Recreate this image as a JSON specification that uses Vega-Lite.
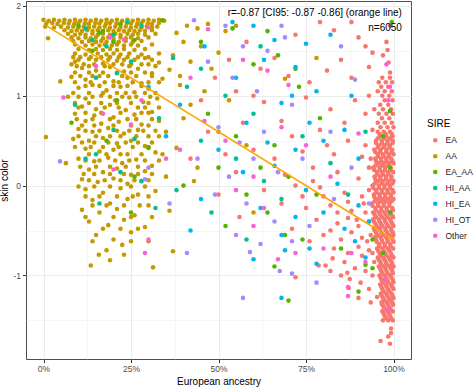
{
"$schema":"https://vega.github.io/schema/vega-lite/v6.json",
"width":385,"height":358,
"autosize":{"type":"none"},
"padding":{"left":26,"top":1,"right":63,"bottom":29},
"config":{
"font":"Liberation Sans",
"view":{"stroke":"#4D4D4D","strokeWidth":1},
"axis":{"domain":false,"gridColor":"#EBEBEB","labelFont":"Liberation Sans","labelFontSize":8.5,"labelColor":"#4D4D4D","tickSize":3.5,"tickWidth":1,"labelPadding":2,"titleFontSize":10,"titleFontWeight":"normal","titleColor":"#000000","titleFont":"Liberation Sans"},
"legend":{"titleFontSize":10,"titleFontWeight":"normal","titleColor":"#000000","titleFont":"Liberation Sans","labelFont":"Liberation Sans","labelFontSize":8.5,"labelColor":"#1A1A1A","symbolType":"circle","symbolSize":20,"symbolStrokeWidth":0,"rowPadding":6.9,"titlePadding":7,"padding":0,"symbolOffset":4,"labelOffset":6}
},
"encoding":{
"x":{"field":"x","type":"quantitative","scale":{"domain":[-0.05,1.05],"nice":false,"zero":false},
"axis":{"title":"European ancestry","values":[0,0.125,0.25,0.375,0.5,0.625,0.75,0.875,1],"labelExpr":"datum.value*4%1==0 ? round(datum.value*100)+'%' : ''","gridWidth":{"condition":{"test":"datum.value*4%1==0","value":1},"value":0.5},"tickColor":{"condition":{"test":"datum.value*4%1==0","value":"#333333"},"value":"rgba(0,0,0,0)"},"titlePadding":3,"labelFlush":false,"labelOverlap":false}},
"y":{"field":"y","type":"quantitative","scale":{"domain":[-1.93,2.055],"nice":false,"zero":false},
"axis":{"title":"skin color","values":[-1.5,-1,-0.5,0,0.5,1,1.5,2],"labelExpr":"datum.value%1==0 ? ''+datum.value : ''","gridWidth":{"condition":{"test":"datum.value%1==0","value":1},"value":0.5},"tickColor":{"condition":{"test":"datum.value%1==0","value":"#333333"},"value":"rgba(0,0,0,0)"},"titlePadding":3,"labelFlush":false,"labelOverlap":false}}
},
"layer":[
{"data":{"values":[
{"x":0.0,"y":1.845,"s":"AA"},{"x":0.015,"y":1.835,"s":"AA"},{"x":0.03,"y":1.845,"s":"AA"},{"x":0.045,"y":1.835,"s":"AA"},{"x":0.06,"y":1.845,"s":"AA"},{"x":0.075,"y":1.835,"s":"AA"},{"x":0.09,"y":1.845,"s":"AA"},{"x":0.105,"y":1.835,"s":"AA"},{"x":0.12,"y":1.845,"s":"AA"},{"x":0.135,"y":1.835,"s":"AA"},{"x":0.15,"y":1.845,"s":"AA"},{"x":0.165,"y":1.835,"s":"AA"},{"x":0.18,"y":1.845,"s":"AA"},{"x":0.195,"y":1.835,"s":"AA"},{"x":0.21,"y":1.845,"s":"AA"},{"x":0.225,"y":1.835,"s":"AA"},{"x":0.24,"y":1.845,"s":"AA"},{"x":0.255,"y":1.835,"s":"AA"},{"x":0.27,"y":1.845,"s":"AA"},{"x":0.285,"y":1.835,"s":"AA"},{"x":0.3,"y":1.845,"s":"AA"},{"x":0.315,"y":1.835,"s":"AA"},{"x":0.33,"y":1.845,"s":"AA"},{"x":0.345,"y":1.835,"s":"AA"},
{"x":0.008,"y":1.805,"s":"AA"},{"x":0.025,"y":1.81,"s":"AA"},{"x":0.04,"y":1.8,"s":"AA"},{"x":0.058,"y":1.81,"s":"AA"},{"x":0.072,"y":1.805,"s":"AA"},{"x":0.088,"y":1.8,"s":"AA"},{"x":0.1,"y":1.81,"s":"AA"},{"x":0.118,"y":1.805,"s":"AA"},{"x":0.13,"y":1.8,"s":"AA"},{"x":0.148,"y":1.81,"s":"AA"},{"x":0.16,"y":1.805,"s":"AA"},{"x":0.178,"y":1.8,"s":"AA"},{"x":0.19,"y":1.81,"s":"AA"},{"x":0.208,"y":1.805,"s":"AA"},{"x":0.22,"y":1.8,"s":"AA"},{"x":0.238,"y":1.81,"s":"AA"},{"x":0.25,"y":1.805,"s":"AA"},{"x":0.268,"y":1.8,"s":"AA"},{"x":0.28,"y":1.81,"s":"AA"},{"x":0.298,"y":1.805,"s":"AA"},{"x":0.31,"y":1.8,"s":"AA"},{"x":0.33,"y":1.81,"s":"AA"},
{"x":0.005,"y":1.77,"s":"AA"},{"x":0.03,"y":1.76,"s":"AA"},{"x":0.05,"y":1.77,"s":"AA"},{"x":0.07,"y":1.76,"s":"AA"},{"x":0.085,"y":1.77,"s":"AA"},{"x":0.1,"y":1.76,"s":"AA"},{"x":0.115,"y":1.77,"s":"AA"},{"x":0.13,"y":1.76,"s":"AA"},{"x":0.145,"y":1.77,"s":"AA"},{"x":0.16,"y":1.76,"s":"AA"},{"x":0.175,"y":1.77,"s":"AA"},{"x":0.19,"y":1.76,"s":"AA"},{"x":0.205,"y":1.77,"s":"AA"},{"x":0.22,"y":1.76,"s":"AA"},{"x":0.235,"y":1.77,"s":"AA"},{"x":0.25,"y":1.76,"s":"AA"},{"x":0.265,"y":1.77,"s":"AA"},{"x":0.28,"y":1.76,"s":"AA"},{"x":0.295,"y":1.77,"s":"AA"},{"x":0.31,"y":1.76,"s":"AA"},{"x":0.325,"y":1.77,"s":"AA"},
{"x":0.06,"y":1.73,"s":"AA"},{"x":0.08,"y":1.72,"s":"AA"},{"x":0.095,"y":1.73,"s":"AA"},{"x":0.11,"y":1.72,"s":"AA"},{"x":0.125,"y":1.73,"s":"AA"},{"x":0.14,"y":1.72,"s":"AA"},{"x":0.155,"y":1.73,"s":"AA"},{"x":0.17,"y":1.72,"s":"AA"},{"x":0.185,"y":1.73,"s":"AA"},{"x":0.2,"y":1.72,"s":"AA"},{"x":0.215,"y":1.73,"s":"AA"},{"x":0.23,"y":1.72,"s":"AA"},{"x":0.245,"y":1.73,"s":"AA"},{"x":0.26,"y":1.72,"s":"AA"},{"x":0.275,"y":1.73,"s":"AA"},{"x":0.29,"y":1.72,"s":"AA"},{"x":0.31,"y":1.73,"s":"AA"},
{"x":0.07,"y":1.69,"s":"AA"},{"x":0.09,"y":1.68,"s":"AA"},{"x":0.105,"y":1.69,"s":"AA"},{"x":0.12,"y":1.68,"s":"AA"},{"x":0.14,"y":1.69,"s":"AA"},{"x":0.155,"y":1.68,"s":"AA"},{"x":0.17,"y":1.69,"s":"AA"},{"x":0.19,"y":1.68,"s":"AA"},{"x":0.205,"y":1.69,"s":"AA"},{"x":0.22,"y":1.68,"s":"AA"},{"x":0.24,"y":1.69,"s":"AA"},{"x":0.255,"y":1.68,"s":"AA"},{"x":0.27,"y":1.69,"s":"AA"},{"x":0.29,"y":1.68,"s":"AA"},{"x":0.32,"y":1.69,"s":"AA"},
{"x":0.08,"y":1.65,"s":"AA"},{"x":0.1,"y":1.64,"s":"AA"},{"x":0.12,"y":1.65,"s":"AA"},{"x":0.135,"y":1.64,"s":"AA"},{"x":0.15,"y":1.65,"s":"AA"},{"x":0.17,"y":1.64,"s":"AA"},{"x":0.185,"y":1.65,"s":"AA"},{"x":0.2,"y":1.64,"s":"AA"},{"x":0.22,"y":1.65,"s":"AA"},{"x":0.235,"y":1.64,"s":"AA"},{"x":0.25,"y":1.65,"s":"AA"},{"x":0.27,"y":1.64,"s":"AA"},{"x":0.3,"y":1.65,"s":"AA"},
{"x":0.085,"y":1.61,"s":"AA"},{"x":0.11,"y":1.6,"s":"AA"},{"x":0.13,"y":1.61,"s":"AA"},{"x":0.15,"y":1.6,"s":"AA"},{"x":0.165,"y":1.61,"s":"AA"},{"x":0.18,"y":1.6,"s":"AA"},{"x":0.2,"y":1.61,"s":"AA"},{"x":0.215,"y":1.6,"s":"AA"},{"x":0.235,"y":1.61,"s":"AA"},{"x":0.255,"y":1.6,"s":"AA"},{"x":0.28,"y":1.61,"s":"AA"},
{"x":0.09,"y":1.57,"s":"AA"},{"x":0.12,"y":1.56,"s":"AA"},{"x":0.14,"y":1.57,"s":"AA"},{"x":0.16,"y":1.56,"s":"AA"},{"x":0.175,"y":1.57,"s":"AA"},{"x":0.195,"y":1.56,"s":"AA"},{"x":0.21,"y":1.57,"s":"AA"},{"x":0.23,"y":1.56,"s":"AA"},{"x":0.25,"y":1.57,"s":"AA"},{"x":0.27,"y":1.56,"s":"AA"},{"x":0.31,"y":1.57,"s":"AA"},
{"x":0.1,"y":1.52,"s":"AA"},{"x":0.13,"y":1.51,"s":"AA"},{"x":0.15,"y":1.52,"s":"AA"},{"x":0.17,"y":1.51,"s":"AA"},{"x":0.19,"y":1.52,"s":"AA"},{"x":0.21,"y":1.51,"s":"AA"},{"x":0.23,"y":1.52,"s":"AA"},{"x":0.26,"y":1.51,"s":"AA"},{"x":0.29,"y":1.52,"s":"AA"},
{"x":0.09,"y":1.47,"s":"AA"},{"x":0.12,"y":1.46,"s":"AA"},{"x":0.155,"y":1.47,"s":"AA"},{"x":0.18,"y":1.46,"s":"AA"},{"x":0.2,"y":1.47,"s":"AA"},{"x":0.22,"y":1.46,"s":"AA"},{"x":0.245,"y":1.47,"s":"AA"},{"x":0.28,"y":1.46,"s":"AA"},{"x":0.33,"y":1.47,"s":"AA"},
{"x":0.013,"y":1.64,"s":"AA"},{"x":0.048,"y":1.16,"s":"AA"},{"x":0.007,"y":0.54,"s":"AA"},{"x":0.064,"y":0.25,"s":"AA"},
{"x":0.085,"y":1.43,"s":"AA"},{"x":0.105,"y":1.43,"s":"AA"},{"x":0.135,"y":1.43,"s":"AA"},{"x":0.165,"y":1.43,"s":"AA"},{"x":0.19,"y":1.43,"s":"AA"},{"x":0.215,"y":1.43,"s":"AA"},{"x":0.24,"y":1.43,"s":"AA"},{"x":0.27,"y":1.43,"s":"AA"},{"x":0.3,"y":1.43,"s":"AA"},
{"x":0.1,"y":1.4,"s":"AA"},{"x":0.15,"y":1.4,"s":"AA"},{"x":0.185,"y":1.4,"s":"AA"},{"x":0.23,"y":1.4,"s":"AA"},{"x":0.26,"y":1.4,"s":"AA"},{"x":0.31,"y":1.4,"s":"AA"},
{"x":0.08,"y":1.35,"s":"AA"},{"x":0.115,"y":1.35,"s":"AA"},{"x":0.145,"y":1.35,"s":"AA"},{"x":0.2,"y":1.35,"s":"AA"},{"x":0.225,"y":1.35,"s":"AA"},{"x":0.28,"y":1.35,"s":"AA"},{"x":0.3,"y":1.35,"s":"AA"},
{"x":0.095,"y":1.33,"s":"AA"},{"x":0.13,"y":1.33,"s":"AA"},{"x":0.175,"y":1.33,"s":"AA"},{"x":0.245,"y":1.33,"s":"AA"},{"x":0.32,"y":1.33,"s":"AA"},
{"x":0.09,"y":1.26,"s":"AA"},{"x":0.13,"y":1.26,"s":"AA"},{"x":0.17,"y":1.26,"s":"AA"},{"x":0.21,"y":1.26,"s":"AA"},{"x":0.25,"y":1.26,"s":"AA"},{"x":0.29,"y":1.26,"s":"AA"},
{"x":0.105,"y":1.22,"s":"AA"},{"x":0.14,"y":1.22,"s":"AA"},{"x":0.185,"y":1.22,"s":"AA"},{"x":0.225,"y":1.22,"s":"AA"},{"x":0.265,"y":1.22,"s":"AA"},{"x":0.31,"y":1.22,"s":"AA"},
{"x":0.09,"y":1.15,"s":"AA"},{"x":0.135,"y":1.15,"s":"AA"},{"x":0.175,"y":1.15,"s":"AA"},{"x":0.215,"y":1.15,"s":"AA"},{"x":0.255,"y":1.15,"s":"AA"},{"x":0.3,"y":1.15,"s":"AA"},{"x":0.33,"y":1.15,"s":"AA"},
{"x":0.12,"y":1.11,"s":"AA"},{"x":0.16,"y":1.11,"s":"AA"},{"x":0.2,"y":1.11,"s":"AA"},{"x":0.24,"y":1.11,"s":"AA"},{"x":0.28,"y":1.11,"s":"AA"},
{"x":0.085,"y":1.03,"s":"AA"},{"x":0.13,"y":1.03,"s":"AA"},{"x":0.17,"y":1.03,"s":"AA"},{"x":0.21,"y":1.03,"s":"AA"},{"x":0.235,"y":1.03,"s":"AA"},{"x":0.29,"y":1.03,"s":"AA"},{"x":0.32,"y":1.03,"s":"AA"},
{"x":0.1,"y":0.99,"s":"AA"},{"x":0.14,"y":0.99,"s":"AA"},{"x":0.19,"y":0.99,"s":"AA"},{"x":0.225,"y":0.99,"s":"AA"},{"x":0.265,"y":0.99,"s":"AA"},{"x":0.305,"y":0.99,"s":"AA"},
{"x":0.09,"y":0.92,"s":"AA"},{"x":0.13,"y":0.92,"s":"AA"},{"x":0.165,"y":0.92,"s":"AA"},{"x":0.21,"y":0.92,"s":"AA"},{"x":0.25,"y":0.92,"s":"AA"},{"x":0.3,"y":0.92,"s":"AA"},
{"x":0.1,"y":0.87,"s":"AA"},{"x":0.175,"y":0.87,"s":"AA"},{"x":0.215,"y":0.87,"s":"AA"},{"x":0.29,"y":0.87,"s":"AA"},{"x":0.33,"y":0.87,"s":"AA"},
{"x":0.12,"y":0.81,"s":"AA"},{"x":0.165,"y":0.81,"s":"AA"},{"x":0.22,"y":0.81,"s":"AA"},{"x":0.28,"y":0.81,"s":"AA"},{"x":0.3,"y":0.81,"s":"AA"},
{"x":0.095,"y":0.74,"s":"AA"},{"x":0.14,"y":0.74,"s":"AA"},{"x":0.19,"y":0.74,"s":"AA"},{"x":0.24,"y":0.74,"s":"AA"},{"x":0.265,"y":0.74,"s":"AA"},{"x":0.31,"y":0.74,"s":"AA"},
{"x":0.11,"y":0.67,"s":"AA"},{"x":0.145,"y":0.67,"s":"AA"},{"x":0.2,"y":0.67,"s":"AA"},{"x":0.25,"y":0.67,"s":"AA"},{"x":0.3,"y":0.67,"s":"AA"},
{"x":0.12,"y":0.61,"s":"AA"},{"x":0.16,"y":0.61,"s":"AA"},{"x":0.21,"y":0.61,"s":"AA"},{"x":0.245,"y":0.61,"s":"AA"},{"x":0.285,"y":0.61,"s":"AA"},{"x":0.32,"y":0.61,"s":"AA"},
{"x":0.1,"y":0.55,"s":"AA"},{"x":0.15,"y":0.55,"s":"AA"},{"x":0.19,"y":0.55,"s":"AA"},{"x":0.22,"y":0.55,"s":"AA"},{"x":0.265,"y":0.55,"s":"AA"},{"x":0.33,"y":0.55,"s":"AA"},
{"x":0.11,"y":0.48,"s":"AA"},{"x":0.145,"y":0.48,"s":"AA"},{"x":0.185,"y":0.48,"s":"AA"},{"x":0.235,"y":0.48,"s":"AA"},{"x":0.27,"y":0.48,"s":"AA"},{"x":0.31,"y":0.48,"s":"AA"},
{"x":0.09,"y":0.43,"s":"AA"},{"x":0.135,"y":0.43,"s":"AA"},{"x":0.17,"y":0.43,"s":"AA"},{"x":0.215,"y":0.43,"s":"AA"},{"x":0.255,"y":0.43,"s":"AA"},{"x":0.3,"y":0.43,"s":"AA"},
{"x":0.13,"y":0.35,"s":"AA"},{"x":0.18,"y":0.35,"s":"AA"},{"x":0.22,"y":0.35,"s":"AA"},{"x":0.28,"y":0.35,"s":"AA"},{"x":0.34,"y":0.35,"s":"AA"},
{"x":0.12,"y":0.28,"s":"AA"},{"x":0.16,"y":0.28,"s":"AA"},{"x":0.205,"y":0.28,"s":"AA"},{"x":0.245,"y":0.28,"s":"AA"},{"x":0.29,"y":0.28,"s":"AA"},{"x":0.33,"y":0.28,"s":"AA"},
{"x":0.105,"y":0.21,"s":"AA"},{"x":0.15,"y":0.21,"s":"AA"},{"x":0.19,"y":0.21,"s":"AA"},{"x":0.235,"y":0.21,"s":"AA"},{"x":0.27,"y":0.21,"s":"AA"},
{"x":0.115,"y":0.13,"s":"AA"},{"x":0.145,"y":0.13,"s":"AA"},{"x":0.19,"y":0.13,"s":"AA"},{"x":0.23,"y":0.13,"s":"AA"},{"x":0.27,"y":0.13,"s":"AA"},{"x":0.31,"y":0.13,"s":"AA"},
{"x":0.13,"y":0.06,"s":"AA"},{"x":0.175,"y":0.06,"s":"AA"},{"x":0.22,"y":0.06,"s":"AA"},{"x":0.26,"y":0.06,"s":"AA"},{"x":0.3,"y":0.06,"s":"AA"},
{"x":0.1,"y":-0.01,"s":"AA"},{"x":0.145,"y":-0.01,"s":"AA"},{"x":0.19,"y":-0.01,"s":"AA"},{"x":0.25,"y":-0.01,"s":"AA"},{"x":0.29,"y":-0.01,"s":"AA"},
{"x":0.12,"y":-0.12,"s":"AA"},{"x":0.16,"y":-0.12,"s":"AA"},{"x":0.21,"y":-0.12,"s":"AA"},{"x":0.255,"y":-0.12,"s":"AA"},{"x":0.3,"y":-0.12,"s":"AA"},
{"x":0.14,"y":-0.22,"s":"AA"},{"x":0.18,"y":-0.22,"s":"AA"},{"x":0.23,"y":-0.22,"s":"AA"},{"x":0.275,"y":-0.22,"s":"AA"},
{"x":0.12,"y":-0.35,"s":"AA"},{"x":0.2,"y":-0.35,"s":"AA"},{"x":0.25,"y":-0.35,"s":"AA"},{"x":0.31,"y":-0.35,"s":"AA"},
{"x":0.17,"y":-0.48,"s":"AA"},{"x":0.22,"y":-0.48,"s":"AA"},{"x":0.27,"y":-0.48,"s":"AA"},
{"x":0.14,"y":-0.62,"s":"AA"},{"x":0.25,"y":-0.62,"s":"AA"},{"x":0.3,"y":-0.62,"s":"AA"},
{"x":0.09,"y":1.38,"s":"AA"},{"x":0.13,"y":1.41,"s":"AA"},{"x":0.17,"y":1.36,"s":"AA"},{"x":0.21,"y":1.39,"s":"AA"},{"x":0.25,"y":1.35,"s":"AA"},{"x":0.29,"y":1.42,"s":"AA"},{"x":0.33,"y":1.37,"s":"AA"},{"x":0.11,"y":1.31,"s":"AA"},{"x":0.15,"y":1.28,"s":"AA"},{"x":0.19,"y":1.32,"s":"AA"},{"x":0.23,"y":1.27,"s":"AA"},{"x":0.27,"y":1.3,"s":"AA"},{"x":0.31,"y":1.25,"s":"AA"},{"x":0.36,"y":1.29,"s":"AA"},{"x":0.08,"y":1.21,"s":"AA"},{"x":0.12,"y":1.18,"s":"AA"},{"x":0.16,"y":1.22,"s":"AA"},{"x":0.2,"y":1.16,"s":"AA"},{"x":0.24,"y":1.2,"s":"AA"},{"x":0.28,"y":1.14,"s":"AA"},{"x":0.34,"y":1.19,"s":"AA"},{"x":0.1,"y":1.09,"s":"AA"},{"x":0.14,"y":1.12,"s":"AA"},{"x":0.18,"y":1.06,"s":"AA"},{"x":0.22,"y":1.1,"s":"AA"},{"x":0.26,"y":1.04,"s":"AA"},{"x":0.3,"y":1.08,"s":"AA"},{"x":0.39,"y":1.12,"s":"AA"},{"x":0.07,"y":0.99,"s":"AA"},{"x":0.12,"y":0.97,"s":"AA"},{"x":0.165,"y":1.0,"s":"AA"},{"x":0.205,"y":0.95,"s":"AA"},{"x":0.245,"y":0.98,"s":"AA"},{"x":0.285,"y":0.93,"s":"AA"},{"x":0.325,"y":0.97,"s":"AA"},{"x":0.11,"y":0.88,"s":"AA"},{"x":0.15,"y":0.85,"s":"AA"},{"x":0.19,"y":0.9,"s":"AA"},{"x":0.235,"y":0.84,"s":"AA"},{"x":0.27,"y":0.87,"s":"AA"},{"x":0.31,"y":0.82,"s":"AA"},{"x":0.42,"y":0.9,"s":"AA"},{"x":0.09,"y":0.8,"s":"AA"},{"x":0.145,"y":0.78,"s":"AA"},{"x":0.2,"y":0.76,"s":"AA"},{"x":0.26,"y":0.79,"s":"AA"},
{"x":0.12,"y":0.72,"s":"AA"},{"x":0.165,"y":0.69,"s":"AA"},{"x":0.215,"y":0.71,"s":"AA"},{"x":0.28,"y":0.68,"s":"AA"},{"x":0.33,"y":0.72,"s":"AA"},{"x":0.1,"y":0.63,"s":"AA"},{"x":0.14,"y":0.6,"s":"AA"},{"x":0.185,"y":0.64,"s":"AA"},{"x":0.23,"y":0.58,"s":"AA"},{"x":0.27,"y":0.62,"s":"AA"},{"x":0.3,"y":0.55,"s":"AA"},{"x":0.35,"y":0.6,"s":"AA"},{"x":0.085,"y":0.52,"s":"AA"},{"x":0.13,"y":0.5,"s":"AA"},{"x":0.17,"y":0.53,"s":"AA"},{"x":0.21,"y":0.47,"s":"AA"},{"x":0.25,"y":0.5,"s":"AA"},{"x":0.29,"y":0.44,"s":"AA"},{"x":0.12,"y":0.41,"s":"AA"},{"x":0.16,"y":0.38,"s":"AA"},{"x":0.2,"y":0.4,"s":"AA"},{"x":0.24,"y":0.35,"s":"AA"},{"x":0.32,"y":0.37,"s":"AA"},{"x":0.38,"y":0.42,"s":"AA"},{"x":0.1,"y":0.3,"s":"AA"},{"x":0.145,"y":0.27,"s":"AA"},{"x":0.185,"y":0.31,"s":"AA"},{"x":0.225,"y":0.25,"s":"AA"},{"x":0.265,"y":0.29,"s":"AA"},{"x":0.31,"y":0.22,"s":"AA"},{"x":0.13,"y":0.18,"s":"AA"},{"x":0.17,"y":0.15,"s":"AA"},{"x":0.21,"y":0.19,"s":"AA"},{"x":0.25,"y":0.12,"s":"AA"},{"x":0.29,"y":0.16,"s":"AA"},{"x":0.35,"y":0.1,"s":"AA"},{"x":0.11,"y":0.07,"s":"AA"},{"x":0.155,"y":0.04,"s":"AA"},{"x":0.2,"y":0.08,"s":"AA"},{"x":0.24,"y":0.02,"s":"AA"},{"x":0.28,"y":0.05,"s":"AA"},{"x":0.44,"y":0.2,"s":"AA"},
{"x":0.12,"y":-0.04,"s":"AA"},{"x":0.17,"y":-0.08,"s":"AA"},{"x":0.22,"y":-0.03,"s":"AA"},{"x":0.27,"y":-0.1,"s":"AA"},{"x":0.32,"y":-0.06,"s":"AA"},{"x":0.14,"y":-0.16,"s":"AA"},{"x":0.19,"y":-0.2,"s":"AA"},{"x":0.24,"y":-0.15,"s":"AA"},{"x":0.3,"y":-0.22,"s":"AA"},{"x":0.11,"y":-0.27,"s":"AA"},{"x":0.16,"y":-0.3,"s":"AA"},{"x":0.21,"y":-0.26,"s":"AA"},{"x":0.26,"y":-0.33,"s":"AA"},{"x":0.36,"y":-0.28,"s":"AA"},{"x":0.13,"y":-0.4,"s":"AA"},{"x":0.185,"y":-0.44,"s":"AA"},{"x":0.23,"y":-0.38,"s":"AA"},{"x":0.29,"y":-0.46,"s":"AA"},{"x":0.15,"y":-0.55,"s":"AA"},{"x":0.2,"y":-0.6,"s":"AA"},{"x":0.25,"y":-0.52,"s":"AA"},{"x":0.18,"y":-0.72,"s":"AA"},{"x":0.225,"y":-0.66,"s":"AA"},{"x":0.37,"y":-0.73,"s":"AA"},{"x":0.135,"y":-0.89,"s":"AA"},{"x":0.19,"y":-0.83,"s":"AA"},{"x":0.313,"y":-0.91,"s":"AA"},{"x":0.158,"y":-0.77,"s":"AA"},{"x":0.23,"y":-0.77,"s":"AA"},
{"x":0.38,"y":1.7,"s":"AA"},{"x":0.41,"y":1.78,"s":"AA"},{"x":0.44,"y":1.75,"s":"AA"},{"x":0.47,"y":1.8,"s":"AA"},{"x":0.52,"y":1.72,"s":"AA"},{"x":0.4,"y":1.6,"s":"AA"},{"x":0.45,"y":1.55,"s":"AA"},{"x":0.5,"y":1.48,"s":"AA"},{"x":0.37,"y":1.45,"s":"AA"},{"x":0.42,"y":1.38,"s":"AA"},{"x":0.48,"y":1.3,"s":"AA"},{"x":0.55,"y":1.78,"s":"AA"},{"x":0.39,"y":1.22,"s":"AA"},{"x":0.46,"y":1.05,"s":"AA"},{"x":0.53,"y":0.95,"s":"AA"},{"x":0.4,"y":0.75,"s":"AA"},{"x":0.5,"y":0.6,"s":"AA"},{"x":0.58,"y":0.45,"s":"AA"},{"x":0.43,"y":0.05,"s":"AA"},{"x":0.6,"y":-0.3,"s":"AA"},{"x":0.69,"y":1.19,"s":"AA"},{"x":0.78,"y":1.42,"s":"AA"},
{"x":0.968,"y":1.2,"s":"EA"},{"x":0.99,"y":1.2,"s":"EA"},{"x":0.958,"y":1.15,"s":"EA"},{"x":0.978,"y":1.15,"s":"EA"},{"x":0.996,"y":1.15,"s":"EA"},{"x":0.965,"y":1.1,"s":"EA"},{"x":0.985,"y":1.1,"s":"EA"},{"x":0.955,"y":1.05,"s":"EA"},{"x":0.975,"y":1.05,"s":"EA"},{"x":0.995,"y":1.05,"s":"EA"},{"x":0.968,"y":1.0,"s":"EA"},{"x":0.988,"y":1.0,"s":"EA"},{"x":0.975,"y":0.95,"s":"EA"},{"x":0.997,"y":0.95,"s":"EA"},{"x":0.962,"y":0.9,"s":"EA"},{"x":0.985,"y":0.9,"s":"EA"},{"x":0.97,"y":0.85,"s":"EA"},{"x":0.993,"y":0.85,"s":"EA"},{"x":0.958,"y":0.8,"s":"EA"},{"x":0.98,"y":0.8,"s":"EA"},{"x":0.998,"y":0.8,"s":"EA"},{"x":0.967,"y":0.75,"s":"EA"},{"x":0.988,"y":0.75,"s":"EA"},{"x":0.955,"y":0.7,"s":"EA"},{"x":0.975,"y":0.7,"s":"EA"},{"x":0.995,"y":0.7,"s":"EA"},{"x":0.963,"y":0.65,"s":"EA"},{"x":0.983,"y":0.65,"s":"EA"},{"x":1.0,"y":0.65,"s":"EA"},
{"x":0.955,"y":0.6,"s":"EA"},{"x":0.972,"y":0.6,"s":"EA"},{"x":0.99,"y":0.6,"s":"EA"},{"x":0.962,"y":0.55,"s":"EA"},{"x":0.98,"y":0.55,"s":"EA"},{"x":0.997,"y":0.55,"s":"EA"},{"x":0.95,"y":0.5,"s":"EA"},{"x":0.966,"y":0.5,"s":"EA"},{"x":0.983,"y":0.5,"s":"EA"},{"x":0.998,"y":0.5,"s":"EA"},{"x":0.958,"y":0.45,"s":"EA"},{"x":0.975,"y":0.45,"s":"EA"},{"x":0.99,"y":0.45,"s":"EA"},{"x":0.945,"y":0.4,"s":"EA"},{"x":0.963,"y":0.4,"s":"EA"},{"x":0.98,"y":0.4,"s":"EA"},{"x":0.996,"y":0.4,"s":"EA"},{"x":0.955,"y":0.35,"s":"EA"},{"x":0.97,"y":0.35,"s":"EA"},{"x":0.987,"y":0.35,"s":"EA"},{"x":1.0,"y":0.35,"s":"EA"},{"x":0.948,"y":0.3,"s":"EA"},{"x":0.964,"y":0.3,"s":"EA"},{"x":0.979,"y":0.3,"s":"EA"},{"x":0.993,"y":0.3,"s":"EA"},{"x":0.957,"y":0.25,"s":"EA"},{"x":0.972,"y":0.25,"s":"EA"},{"x":0.988,"y":0.25,"s":"EA"},{"x":1.0,"y":0.25,"s":"EA"},{"x":0.942,"y":0.2,"s":"EA"},{"x":0.96,"y":0.2,"s":"EA"},{"x":0.976,"y":0.2,"s":"EA"},{"x":0.992,"y":0.2,"s":"EA"},{"x":0.953,"y":0.15,"s":"EA"},{"x":0.968,"y":0.15,"s":"EA"},{"x":0.984,"y":0.15,"s":"EA"},{"x":0.999,"y":0.15,"s":"EA"},{"x":0.946,"y":0.1,"s":"EA"},{"x":0.962,"y":0.1,"s":"EA"},{"x":0.978,"y":0.1,"s":"EA"},{"x":0.994,"y":0.1,"s":"EA"},{"x":0.955,"y":0.05,"s":"EA"},{"x":0.97,"y":0.05,"s":"EA"},{"x":0.986,"y":0.05,"s":"EA"},{"x":1.0,"y":0.05,"s":"EA"},{"x":0.94,"y":0.0,"s":"EA"},{"x":0.958,"y":0.0,"s":"EA"},{"x":0.974,"y":0.0,"s":"EA"},{"x":0.99,"y":0.0,"s":"EA"},{"x":0.95,"y":-0.05,"s":"EA"},{"x":0.966,"y":-0.05,"s":"EA"},{"x":0.982,"y":-0.05,"s":"EA"},{"x":0.997,"y":-0.05,"s":"EA"},{"x":0.944,"y":-0.1,"s":"EA"},{"x":0.96,"y":-0.1,"s":"EA"},{"x":0.976,"y":-0.1,"s":"EA"},{"x":0.992,"y":-0.1,"s":"EA"},{"x":0.953,"y":-0.15,"s":"EA"},{"x":0.969,"y":-0.15,"s":"EA"},{"x":0.985,"y":-0.15,"s":"EA"},{"x":1.0,"y":-0.15,"s":"EA"},{"x":0.938,"y":-0.2,"s":"EA"},{"x":0.956,"y":-0.2,"s":"EA"},{"x":0.972,"y":-0.2,"s":"EA"},{"x":0.988,"y":-0.2,"s":"EA"},{"x":0.948,"y":-0.25,"s":"EA"},{"x":0.964,"y":-0.25,"s":"EA"},{"x":0.98,"y":-0.25,"s":"EA"},{"x":0.996,"y":-0.25,"s":"EA"},{"x":0.942,"y":-0.3,"s":"EA"},{"x":0.958,"y":-0.3,"s":"EA"},{"x":0.974,"y":-0.3,"s":"EA"},{"x":0.99,"y":-0.3,"s":"EA"},{"x":0.95,"y":-0.35,"s":"EA"},{"x":0.967,"y":-0.35,"s":"EA"},{"x":0.983,"y":-0.35,"s":"EA"},{"x":0.999,"y":-0.35,"s":"EA"},{"x":0.944,"y":-0.4,"s":"EA"},{"x":0.96,"y":-0.4,"s":"EA"},{"x":0.976,"y":-0.4,"s":"EA"},{"x":0.993,"y":-0.4,"s":"EA"},{"x":0.952,"y":-0.45,"s":"EA"},{"x":0.968,"y":-0.45,"s":"EA"},{"x":0.984,"y":-0.45,"s":"EA"},{"x":1.0,"y":-0.45,"s":"EA"},{"x":0.946,"y":-0.5,"s":"EA"},{"x":0.962,"y":-0.5,"s":"EA"},{"x":0.978,"y":-0.5,"s":"EA"},{"x":0.994,"y":-0.5,"s":"EA"},{"x":0.955,"y":-0.55,"s":"EA"},{"x":0.971,"y":-0.55,"s":"EA"},{"x":0.987,"y":-0.55,"s":"EA"},{"x":1.0,"y":-0.55,"s":"EA"},{"x":0.95,"y":-0.6,"s":"EA"},{"x":0.966,"y":-0.6,"s":"EA"},{"x":0.982,"y":-0.6,"s":"EA"},{"x":0.997,"y":-0.6,"s":"EA"},{"x":0.958,"y":-0.65,"s":"EA"},{"x":0.974,"y":-0.65,"s":"EA"},{"x":0.99,"y":-0.65,"s":"EA"},{"x":0.953,"y":-0.7,"s":"EA"},{"x":0.968,"y":-0.7,"s":"EA"},{"x":0.984,"y":-0.7,"s":"EA"},{"x":0.999,"y":-0.7,"s":"EA"},{"x":0.96,"y":-0.75,"s":"EA"},{"x":0.976,"y":-0.75,"s":"EA"},{"x":0.992,"y":-0.75,"s":"EA"},{"x":0.955,"y":-0.8,"s":"EA"},{"x":0.97,"y":-0.8,"s":"EA"},{"x":0.986,"y":-0.8,"s":"EA"},{"x":1.0,"y":-0.8,"s":"EA"},{"x":0.962,"y":-0.85,"s":"EA"},{"x":0.978,"y":-0.85,"s":"EA"},{"x":0.994,"y":-0.85,"s":"EA"},{"x":0.958,"y":-0.9,"s":"EA"},{"x":0.973,"y":-0.9,"s":"EA"},{"x":0.988,"y":-0.9,"s":"EA"},{"x":1.0,"y":-0.9,"s":"EA"},{"x":0.965,"y":-0.95,"s":"EA"},{"x":0.98,"y":-0.95,"s":"EA"},{"x":0.996,"y":-0.95,"s":"EA"},{"x":0.96,"y":-1.0,"s":"EA"},{"x":0.975,"y":-1.0,"s":"EA"},{"x":0.99,"y":-1.0,"s":"EA"},{"x":0.966,"y":-1.05,"s":"EA"},{"x":0.982,"y":-1.05,"s":"EA"},{"x":0.998,"y":-1.05,"s":"EA"},{"x":0.962,"y":-1.1,"s":"EA"},{"x":0.977,"y":-1.1,"s":"EA"},{"x":0.992,"y":-1.1,"s":"EA"},{"x":0.968,"y":-1.15,"s":"EA"},{"x":0.984,"y":-1.15,"s":"EA"},{"x":1.0,"y":-1.15,"s":"EA"},{"x":0.964,"y":-1.2,"s":"EA"},{"x":0.979,"y":-1.2,"s":"EA"},{"x":0.994,"y":-1.2,"s":"EA"},{"x":0.97,"y":-1.25,"s":"EA"},{"x":0.986,"y":-1.25,"s":"EA"},{"x":1.0,"y":-1.25,"s":"EA"},{"x":0.966,"y":-1.3,"s":"EA"},{"x":0.981,"y":-1.3,"s":"EA"},{"x":0.996,"y":-1.3,"s":"EA"},{"x":0.972,"y":-1.35,"s":"EA"},{"x":0.988,"y":-1.35,"s":"EA"},{"x":0.968,"y":-1.4,"s":"EA"},{"x":0.983,"y":-1.4,"s":"EA"},{"x":0.998,"y":-1.4,"s":"EA"},{"x":0.975,"y":-1.45,"s":"EA"},{"x":0.99,"y":-1.45,"s":"EA"},{"x":0.97,"y":-1.5,"s":"EA"},{"x":0.985,"y":-1.5,"s":"EA"},{"x":0.998,"y":-1.5,"s":"EA"},
{"x":0.96,"y":0.575,"s":"EA"},{"x":0.978,"y":0.575,"s":"EA"},{"x":0.995,"y":0.575,"s":"EA"},{"x":0.955,"y":0.525,"s":"EA"},{"x":0.973,"y":0.525,"s":"EA"},{"x":0.99,"y":0.525,"s":"EA"},{"x":0.95,"y":0.475,"s":"EA"},{"x":0.967,"y":0.475,"s":"EA"},{"x":0.982,"y":0.475,"s":"EA"},{"x":0.997,"y":0.475,"s":"EA"},{"x":0.955,"y":0.425,"s":"EA"},{"x":0.971,"y":0.425,"s":"EA"},{"x":0.988,"y":0.425,"s":"EA"},{"x":0.948,"y":0.375,"s":"EA"},{"x":0.962,"y":0.375,"s":"EA"},{"x":0.979,"y":0.375,"s":"EA"},{"x":0.994,"y":0.375,"s":"EA"},{"x":0.956,"y":0.325,"s":"EA"},{"x":0.972,"y":0.325,"s":"EA"},{"x":0.986,"y":0.325,"s":"EA"},{"x":0.95,"y":0.275,"s":"EA"},{"x":0.965,"y":0.275,"s":"EA"},{"x":0.98,"y":0.275,"s":"EA"},{"x":0.996,"y":0.275,"s":"EA"},{"x":0.949,"y":0.225,"s":"EA"},{"x":0.968,"y":0.225,"s":"EA"},{"x":0.984,"y":0.225,"s":"EA"},{"x":0.945,"y":0.175,"s":"EA"},{"x":0.961,"y":0.175,"s":"EA"},{"x":0.976,"y":0.175,"s":"EA"},{"x":0.992,"y":0.175,"s":"EA"},{"x":0.954,"y":0.125,"s":"EA"},{"x":0.97,"y":0.125,"s":"EA"},{"x":0.986,"y":0.125,"s":"EA"},{"x":0.948,"y":0.075,"s":"EA"},{"x":0.963,"y":0.075,"s":"EA"},{"x":0.979,"y":0.075,"s":"EA"},{"x":0.994,"y":0.075,"s":"EA"},{"x":0.947,"y":0.025,"s":"EA"},{"x":0.966,"y":0.025,"s":"EA"},{"x":0.982,"y":0.025,"s":"EA"},{"x":0.997,"y":0.025,"s":"EA"},{"x":0.942,"y":-0.025,"s":"EA"},{"x":0.958,"y":-0.025,"s":"EA"},{"x":0.974,"y":-0.025,"s":"EA"},{"x":0.99,"y":-0.025,"s":"EA"},{"x":0.952,"y":-0.075,"s":"EA"},{"x":0.968,"y":-0.075,"s":"EA"},{"x":0.984,"y":-0.075,"s":"EA"},{"x":1.0,"y":-0.075,"s":"EA"},{"x":0.945,"y":-0.125,"s":"EA"},{"x":0.961,"y":-0.125,"s":"EA"},{"x":0.977,"y":-0.125,"s":"EA"},{"x":0.993,"y":-0.125,"s":"EA"},{"x":0.946,"y":-0.175,"s":"EA"},{"x":0.962,"y":-0.175,"s":"EA"},{"x":0.978,"y":-0.175,"s":"EA"},{"x":0.994,"y":-0.175,"s":"EA"},{"x":0.94,"y":-0.225,"s":"EA"},{"x":0.956,"y":-0.225,"s":"EA"},{"x":0.972,"y":-0.225,"s":"EA"},{"x":0.988,"y":-0.225,"s":"EA"},{"x":0.95,"y":-0.275,"s":"EA"},{"x":0.966,"y":-0.275,"s":"EA"},{"x":0.982,"y":-0.275,"s":"EA"},{"x":0.998,"y":-0.275,"s":"EA"},{"x":0.946,"y":-0.325,"s":"EA"},{"x":0.962,"y":-0.325,"s":"EA"},{"x":0.978,"y":-0.325,"s":"EA"},{"x":0.994,"y":-0.325,"s":"EA"},{"x":0.942,"y":-0.375,"s":"EA"},{"x":0.958,"y":-0.375,"s":"EA"},{"x":0.974,"y":-0.375,"s":"EA"},{"x":0.99,"y":-0.375,"s":"EA"},{"x":0.948,"y":-0.425,"s":"EA"},{"x":0.964,"y":-0.425,"s":"EA"},{"x":0.98,"y":-0.425,"s":"EA"},{"x":0.996,"y":-0.425,"s":"EA"},{"x":0.944,"y":-0.475,"s":"EA"},{"x":0.96,"y":-0.475,"s":"EA"},{"x":0.976,"y":-0.475,"s":"EA"},{"x":0.992,"y":-0.475,"s":"EA"},{"x":0.95,"y":-0.525,"s":"EA"},{"x":0.966,"y":-0.525,"s":"EA"},{"x":0.982,"y":-0.525,"s":"EA"},{"x":0.998,"y":-0.525,"s":"EA"},{"x":0.947,"y":-0.575,"s":"EA"},{"x":0.963,"y":-0.575,"s":"EA"},{"x":0.979,"y":-0.575,"s":"EA"},{"x":0.994,"y":-0.575,"s":"EA"},{"x":0.952,"y":-0.625,"s":"EA"},{"x":0.968,"y":-0.625,"s":"EA"},{"x":0.984,"y":-0.625,"s":"EA"},{"x":1.0,"y":-0.625,"s":"EA"},{"x":0.96,"y":-0.675,"s":"EA"},{"x":0.976,"y":-0.675,"s":"EA"},{"x":0.992,"y":-0.675,"s":"EA"},{"x":0.956,"y":-0.725,"s":"EA"},{"x":0.972,"y":-0.725,"s":"EA"},{"x":0.988,"y":-0.725,"s":"EA"},{"x":0.963,"y":-0.775,"s":"EA"},{"x":0.979,"y":-0.775,"s":"EA"},{"x":0.995,"y":-0.775,"s":"EA"},{"x":0.958,"y":-0.825,"s":"EA"},{"x":0.974,"y":-0.825,"s":"EA"},{"x":0.99,"y":-0.825,"s":"EA"},{"x":0.965,"y":-0.875,"s":"EA"},{"x":0.981,"y":-0.875,"s":"EA"},{"x":0.996,"y":-0.875,"s":"EA"},{"x":0.962,"y":-0.925,"s":"EA"},{"x":0.977,"y":-0.925,"s":"EA"},{"x":0.993,"y":-0.925,"s":"EA"},{"x":0.968,"y":-0.975,"s":"EA"},{"x":0.983,"y":-0.975,"s":"EA"},{"x":0.998,"y":-0.975,"s":"EA"},{"x":0.963,"y":-1.025,"s":"EA"},{"x":0.978,"y":-1.025,"s":"EA"},{"x":0.994,"y":-1.025,"s":"EA"},{"x":0.97,"y":-1.075,"s":"EA"},{"x":0.985,"y":-1.075,"s":"EA"},{"x":1.0,"y":-1.075,"s":"EA"},{"x":0.965,"y":-1.125,"s":"EA"},{"x":0.98,"y":-1.125,"s":"EA"},{"x":0.996,"y":-1.125,"s":"EA"},{"x":0.972,"y":-1.175,"s":"EA"},{"x":0.988,"y":-1.175,"s":"EA"},{"x":0.966,"y":-1.225,"s":"EA"},{"x":0.982,"y":-1.225,"s":"EA"},{"x":0.997,"y":-1.225,"s":"EA"},{"x":0.974,"y":-1.275,"s":"EA"},{"x":0.99,"y":-1.275,"s":"EA"},{"x":0.969,"y":-1.325,"s":"EA"},{"x":0.984,"y":-1.325,"s":"EA"},{"x":0.999,"y":-1.325,"s":"EA"},{"x":0.976,"y":-1.375,"s":"EA"},{"x":0.992,"y":-1.375,"s":"EA"},{"x":0.972,"y":-1.425,"s":"EA"},{"x":0.987,"y":-1.425,"s":"EA"},{"x":0.978,"y":-1.475,"s":"EA"},{"x":0.993,"y":-1.475,"s":"EA"},
{"x":0.963,"y":-1.73,"s":"EA"},{"x":0.985,"y":-1.68,"s":"EA"},{"x":0.99,"y":-1.76,"s":"EA"},{"x":0.993,"y":-1.64,"s":"EA"},{"x":0.993,"y":-1.59,"s":"EA"},{"x":0.953,"y":-1.24,"s":"EA"},{"x":0.967,"y":-1.32,"s":"EA"},
{"x":0.76,"y":-0.62,"s":"EA"},{"x":0.82,"y":-0.5,"s":"EA"},{"x":0.86,"y":-0.85,"s":"EA"},{"x":0.89,"y":-0.92,"s":"EA"},{"x":0.91,"y":-0.78,"s":"EA"},{"x":0.925,"y":-0.62,"s":"EA"},{"x":0.895,"y":-0.38,"s":"EA"},{"x":0.915,"y":-0.2,"s":"EA"},{"x":0.87,"y":-0.18,"s":"EA"},{"x":0.84,"y":-0.3,"s":"EA"},{"x":0.8,"y":-0.12,"s":"EA"},{"x":0.935,"y":0.3,"s":"EA"},{"x":0.92,"y":0.45,"s":"EA"},{"x":0.94,"y":0.62,"s":"EA"},{"x":0.93,"y":1.0,"s":"EA"},{"x":0.945,"y":0.85,"s":"EA"},{"x":0.83,"y":0.35,"s":"EA"},{"x":0.77,"y":0.05,"s":"EA"},{"x":0.74,"y":-0.12,"s":"EA"},{"x":0.82,"y":-0.95,"s":"EA"},{"x":0.9,"y":-1.25,"s":"EA"},{"x":0.935,"y":-1.3,"s":"EA"},{"x":0.85,"y":-1.0,"s":"EA"},
{"x":0.58,"y":1.6,"s":"EA"},{"x":0.66,"y":1.42,"s":"EA"},{"x":0.72,"y":1.68,"s":"EA"},{"x":0.79,"y":1.82,"s":"EA"},{"x":0.83,"y":1.73,"s":"EA"},{"x":0.88,"y":1.82,"s":"EA"},{"x":0.9,"y":1.65,"s":"EA"},{"x":0.92,"y":1.55,"s":"EA"},{"x":0.94,"y":1.48,"s":"EA"},{"x":0.85,"y":1.4,"s":"EA"},{"x":0.81,"y":1.28,"s":"EA"},{"x":0.76,"y":1.15,"s":"EA"},{"x":0.88,"y":1.2,"s":"EA"},{"x":0.93,"y":1.32,"s":"EA"},{"x":0.97,"y":1.45,"s":"EA"},{"x":0.983,"y":1.51,"s":"EA"},{"x":0.986,"y":1.37,"s":"EA"},{"x":0.98,"y":1.6,"s":"EA"},{"x":0.99,"y":1.78,"s":"EA"},{"x":0.99,"y":1.26,"s":"EA"},{"x":0.62,"y":1.3,"s":"EA"},{"x":0.7,"y":1.22,"s":"EA"},{"x":0.55,"y":1.05,"s":"EA"},{"x":0.63,"y":0.93,"s":"EA"},{"x":0.75,"y":0.98,"s":"EA"},{"x":0.82,"y":0.85,"s":"EA"},{"x":0.89,"y":0.95,"s":"EA"},{"x":0.68,"y":0.72,"s":"EA"},{"x":0.71,"y":0.55,"s":"EA"},{"x":0.79,"y":0.62,"s":"EA"},{"x":0.86,"y":0.7,"s":"EA"},{"x":0.92,"y":0.8,"s":"EA"},{"x":0.6,"y":0.4,"s":"EA"},{"x":0.66,"y":0.3,"s":"EA"},{"x":0.74,"y":0.38,"s":"EA"},{"x":0.81,"y":0.45,"s":"EA"},{"x":0.87,"y":0.5,"s":"EA"},{"x":0.91,"y":0.32,"s":"EA"},{"x":0.69,"y":0.12,"s":"EA"},{"x":0.77,"y":0.2,"s":"EA"},{"x":0.84,"y":0.15,"s":"EA"},{"x":0.9,"y":0.08,"s":"EA"},{"x":0.93,"y":0.2,"s":"EA"},{"x":0.63,"y":-0.05,"s":"EA"},{"x":0.72,"y":0.0,"s":"EA"},{"x":0.79,"y":-0.02,"s":"EA"},{"x":0.86,"y":-0.08,"s":"EA"},{"x":0.91,"y":-0.12,"s":"EA"},{"x":0.93,"y":-0.05,"s":"EA"},{"x":0.68,"y":-0.2,"s":"EA"},{"x":0.75,"y":-0.25,"s":"EA"},{"x":0.82,"y":-0.22,"s":"EA"},{"x":0.88,"y":-0.28,"s":"EA"},{"x":0.92,"y":-0.3,"s":"EA"},{"x":0.78,"y":-0.38,"s":"EA"},{"x":0.84,"y":-0.42,"s":"EA"},{"x":0.87,"y":-0.36,"s":"EA"},{"x":0.9,"y":-0.45,"s":"EA"},{"x":0.93,"y":-0.4,"s":"EA"},{"x":0.71,"y":-0.48,"s":"EA"},{"x":0.8,"y":-0.55,"s":"EA"},{"x":0.85,"y":-0.6,"s":"EA"},{"x":0.88,"y":-0.52,"s":"EA"},{"x":0.91,"y":-0.58,"s":"EA"},{"x":0.935,"y":-0.55,"s":"EA"},{"x":0.83,"y":-0.7,"s":"EA"},{"x":0.87,"y":-0.75,"s":"EA"},{"x":0.9,"y":-0.68,"s":"EA"},{"x":0.93,"y":-0.72,"s":"EA"},{"x":0.786,"y":-0.89,"s":"EA"},{"x":0.806,"y":-0.89,"s":"EA"},{"x":0.826,"y":-0.81,"s":"EA"},{"x":0.868,"y":-0.97,"s":"EA"},{"x":0.875,"y":-1.04,"s":"EA"},{"x":0.872,"y":-1.14,"s":"EA"},{"x":0.906,"y":-1.08,"s":"EA"},{"x":0.92,"y":-0.95,"s":"EA"},{"x":0.94,"y":-1.0,"s":"EA"},{"x":0.72,"y":-1.02,"s":"EA"},{"x":0.93,"y":-1.15,"s":"EA"},{"x":0.945,"y":-0.85,"s":"EA"},{"x":0.94,"y":-0.75,"s":"EA"},
{"x":0.47,"y":0.6,"s":"EA"},{"x":0.52,"y":0.35,"s":"EA"},{"x":0.55,"y":0.15,"s":"EA"},{"x":0.5,"y":-0.1,"s":"EA"},{"x":0.57,"y":0.7,"s":"EA"},{"x":0.45,"y":0.95,"s":"EA"},{"x":0.6,"y":1.0,"s":"EA"},{"x":0.53,"y":1.4,"s":"EA"},{"x":0.49,"y":1.2,"s":"EA"},{"x":0.42,"y":0.3,"s":"EA"},{"x":0.56,"y":-0.35,"s":"EA"},
{"x":0.1,"y":1.78,"s":"EA_AA"},{"x":0.17,"y":1.72,"s":"EA_AA"},{"x":0.22,"y":1.8,"s":"EA_AA"},{"x":0.34,"y":1.84,"s":"EA_AA"},{"x":0.45,"y":1.6,"s":"EA_AA"},{"x":0.54,"y":1.75,"s":"EA_AA"},{"x":0.64,"y":1.72,"s":"EA_AA"},{"x":0.67,"y":1.45,"s":"EA_AA"},{"x":0.6,"y":1.35,"s":"EA_AA"},{"x":0.72,"y":1.3,"s":"EA_AA"},{"x":0.73,"y":1.1,"s":"EA_AA"},{"x":0.995,"y":1.82,"s":"EA_AA"},{"x":0.97,"y":0.55,"s":"EA_AA"},{"x":0.99,"y":0.2,"s":"EA_AA"},{"x":0.21,"y":0.95,"s":"EA_AA"},{"x":0.08,"y":0.7,"s":"EA_AA"},{"x":0.18,"y":0.5,"s":"EA_AA"},{"x":0.3,"y":0.42,"s":"EA_AA"},{"x":0.47,"y":0.8,"s":"EA_AA"},{"x":0.55,"y":0.55,"s":"EA_AA"},{"x":0.62,"y":0.2,"s":"EA_AA"},{"x":0.66,"y":0.45,"s":"EA_AA"},{"x":0.7,"y":0.1,"s":"EA_AA"},{"x":0.58,"y":-0.1,"s":"EA_AA"},{"x":0.64,"y":-0.3,"s":"EA_AA"},{"x":0.52,"y":-0.45,"s":"EA_AA"},{"x":0.69,"y":-0.55,"s":"EA_AA"},{"x":0.74,"y":-0.6,"s":"EA_AA"},{"x":0.66,"y":-0.9,"s":"EA_AA"},{"x":0.7,"y":-1.28,"s":"EA_AA"},{"x":0.9,"y":-1.18,"s":"EA_AA"},{"x":0.92,"y":-0.88,"s":"EA_AA"},{"x":0.94,"y":-0.92,"s":"EA_AA"},{"x":0.99,"y":-0.3,"s":"EA_AA"},{"x":0.97,"y":-0.75,"s":"EA_AA"},{"x":0.85,"y":-0.7,"s":"EA_AA"},{"x":0.78,"y":-0.1,"s":"EA_AA"},{"x":0.25,"y":-0.3,"s":"EA_AA"},{"x":0.4,"y":0.0,"s":"EA_AA"},{"x":0.5,"y":0.2,"s":"EA_AA"},{"x":0.79,"y":0.75,"s":"EA_AA"},{"x":0.14,"y":1.5,"s":"EA_AA"},{"x":0.26,"y":1.62,"s":"EA_AA"},{"x":0.94,"y":-0.6,"s":"EA_AA"},{"x":0.99,"y":0.83,"s":"EA_AA"},{"x":0.16,"y":1.7,"s":"EA_AA"},{"x":0.2,"y":1.6,"s":"EA_AA"},{"x":0.26,"y":0.1,"s":"EA_AA"},
{"x":0.12,"y":1.75,"s":"HI_AA"},{"x":0.2,"y":1.68,"s":"HI_AA"},{"x":0.28,"y":1.78,"s":"HI_AA"},{"x":0.18,"y":1.55,"s":"HI_AA"},{"x":0.25,"y":1.38,"s":"HI_AA"},{"x":0.37,"y":1.42,"s":"HI_AA"},{"x":0.41,"y":1.1,"s":"HI_AA"},{"x":0.15,"y":1.2,"s":"HI_AA"},{"x":0.09,"y":0.9,"s":"HI_AA"},{"x":0.2,"y":0.62,"s":"HI_AA"},{"x":0.15,"y":0.35,"s":"HI_AA"},{"x":0.22,"y":0.15,"s":"HI_AA"},{"x":0.12,"y":0.3,"s":"HI_AA"},{"x":0.28,"y":0.05,"s":"HI_AA"},{"x":0.16,"y":-0.2,"s":"HI_AA"},{"x":0.32,"y":-0.25,"s":"HI_AA"},{"x":0.38,"y":-0.05,"s":"HI_AA"},{"x":0.45,"y":0.5,"s":"HI_AA"},{"x":0.52,"y":1.0,"s":"HI_AA"},{"x":0.6,"y":0.8,"s":"HI_AA"},{"x":0.55,"y":0.3,"s":"HI_AA"},{"x":0.63,"y":0.05,"s":"HI_AA"},{"x":0.48,"y":-0.3,"s":"HI_AA"},{"x":0.58,"y":-0.6,"s":"HI_AA"},{"x":0.68,"y":-0.15,"s":"HI_AA"},{"x":0.74,"y":0.55,"s":"HI_AA"},{"x":0.82,"y":0.25,"s":"HI_AA"},{"x":0.87,"y":-0.1,"s":"HI_AA"},{"x":0.92,"y":0.6,"s":"HI_AA"},{"x":0.45,"y":1.3,"s":"HI_AA"},{"x":0.33,"y":0.75,"s":"HI_AA"},{"x":0.26,"y":0.52,"s":"HI_AA"},{"x":0.62,"y":1.55,"s":"HI_AA"},{"x":0.24,"y":1.82,"s":"HI_AA"},{"x":0.14,"y":1.62,"s":"HI_AA"},{"x":0.21,"y":1.25,"s":"HI_AA"},
{"x":0.54,"y":1.82,"s":"HI_EA"},{"x":0.6,"y":1.78,"s":"HI_EA"},{"x":0.66,"y":1.62,"s":"HI_EA"},{"x":0.75,"y":1.58,"s":"HI_EA"},{"x":0.82,"y":1.68,"s":"HI_EA"},{"x":0.63,"y":1.4,"s":"HI_EA"},{"x":0.72,"y":1.32,"s":"HI_EA"},{"x":0.55,"y":1.2,"s":"HI_EA"},{"x":0.78,"y":1.05,"s":"HI_EA"},{"x":0.68,"y":0.92,"s":"HI_EA"},{"x":0.86,"y":0.62,"s":"HI_EA"},{"x":0.58,"y":0.7,"s":"HI_EA"},{"x":0.64,"y":0.48,"s":"HI_EA"},{"x":0.72,"y":0.4,"s":"HI_EA"},{"x":0.8,"y":0.5,"s":"HI_EA"},{"x":0.9,"y":0.3,"s":"HI_EA"},{"x":0.5,"y":0.4,"s":"HI_EA"},{"x":0.57,"y":0.15,"s":"HI_EA"},{"x":0.66,"y":0.22,"s":"HI_EA"},{"x":0.75,"y":-0.05,"s":"HI_EA"},{"x":0.84,"y":0.02,"s":"HI_EA"},{"x":0.62,"y":-0.25,"s":"HI_EA"},{"x":0.72,"y":-0.35,"s":"HI_EA"},{"x":0.8,"y":-0.3,"s":"HI_EA"},{"x":0.86,"y":-0.48,"s":"HI_EA"},{"x":0.9,"y":-0.22,"s":"HI_EA"},{"x":0.68,"y":-0.55,"s":"HI_EA"},{"x":0.76,"y":-0.7,"s":"HI_EA"},{"x":0.89,"y":-0.62,"s":"HI_EA"},{"x":0.93,"y":-0.4,"s":"HI_EA"},{"x":0.78,"y":-0.87,"s":"HI_EA"},{"x":0.69,"y":-0.72,"s":"HI_EA"},{"x":0.92,"y":-0.8,"s":"HI_EA"},{"x":0.68,"y":-1.25,"s":"HI_EA"},{"x":0.45,"y":-0.15,"s":"HI_EA"},{"x":0.35,"y":0.55,"s":"HI_EA"},{"x":0.3,"y":1.1,"s":"HI_EA"},{"x":0.42,"y":-0.5,"s":"HI_EA"},{"x":0.39,"y":0.9,"s":"HI_EA"},{"x":0.46,"y":1.55,"s":"HI_EA"},{"x":0.6,"y":-0.82,"s":"HI_EA"},{"x":0.76,"y":0.7,"s":"HI_EA"},{"x":0.88,"y":1.0,"s":"HI_EA"},{"x":0.71,"y":1.0,"s":"HI_EA"},
{"x":0.047,"y":0.27,"s":"HI_OT"},{"x":0.29,"y":0.07,"s":"HI_OT"},{"x":0.43,"y":1.84,"s":"HI_OT"},{"x":0.52,"y":1.78,"s":"HI_OT"},{"x":0.57,"y":1.55,"s":"HI_OT"},{"x":0.64,"y":1.5,"s":"HI_OT"},{"x":0.47,"y":1.38,"s":"HI_OT"},{"x":0.69,"y":1.65,"s":"HI_OT"},{"x":0.54,"y":1.2,"s":"HI_OT"},{"x":0.61,"y":1.05,"s":"HI_OT"},{"x":0.71,"y":0.9,"s":"HI_OT"},{"x":0.5,"y":0.65,"s":"HI_OT"},{"x":0.56,"y":0.48,"s":"HI_OT"},{"x":0.63,"y":0.6,"s":"HI_OT"},{"x":0.44,"y":0.3,"s":"HI_OT"},{"x":0.53,"y":0.1,"s":"HI_OT"},{"x":0.6,"y":0.3,"s":"HI_OT"},{"x":0.67,"y":0.15,"s":"HI_OT"},{"x":0.49,"y":-0.1,"s":"HI_OT"},{"x":0.58,"y":-0.2,"s":"HI_OT"},{"x":0.66,"y":-0.4,"s":"HI_OT"},{"x":0.55,"y":-0.55,"s":"HI_OT"},{"x":0.62,"y":-0.65,"s":"HI_OT"},{"x":0.71,"y":-0.62,"s":"HI_OT"},{"x":0.41,"y":-0.75,"s":"HI_OT"},{"x":0.59,"y":-0.74,"s":"HI_OT"},{"x":0.675,"y":-0.95,"s":"HI_OT"},{"x":0.71,"y":-0.98,"s":"HI_OT"},{"x":0.78,"y":-1.08,"s":"HI_OT"},{"x":0.57,"y":-1.25,"s":"HI_OT"},{"x":0.74,"y":0.3,"s":"HI_OT"},{"x":0.82,"y":0.6,"s":"HI_OT"},{"x":0.88,"y":0.2,"s":"HI_OT"},{"x":0.93,"y":-0.2,"s":"HI_OT"},{"x":0.76,"y":-0.45,"s":"HI_OT"},{"x":0.83,"y":-0.15,"s":"HI_OT"},{"x":0.36,"y":-0.2,"s":"HI_OT"},{"x":0.3,"y":0.2,"s":"HI_OT"},{"x":0.85,"y":1.55,"s":"HI_OT"},{"x":0.89,"y":1.18,"s":"HI_OT"},{"x":0.68,"y":1.78,"s":"HI_OT"},
{"x":0.23,"y":1.62,"s":"Other"},{"x":0.3,"y":1.76,"s":"Other"},{"x":0.47,"y":1.74,"s":"Other"},{"x":0.57,"y":1.4,"s":"Other"},{"x":0.64,"y":1.28,"s":"Other"},{"x":0.7,"y":1.12,"s":"Other"},{"x":0.057,"y":0.98,"s":"Other"},{"x":0.17,"y":0.8,"s":"Other"},{"x":0.25,"y":0.68,"s":"Other"},{"x":0.2,"y":0.18,"s":"Other"},{"x":0.35,"y":0.3,"s":"Other"},{"x":0.39,"y":0.4,"s":"Other"},{"x":0.29,"y":-0.75,"s":"Other"},{"x":0.3,"y":-0.6,"s":"Other"},{"x":0.46,"y":0.72,"s":"Other"},{"x":0.52,"y":0.5,"s":"Other"},{"x":0.6,"y":0.1,"s":"Other"},{"x":0.55,"y":-0.05,"s":"Other"},{"x":0.63,"y":-0.25,"s":"Other"},{"x":0.67,"y":-0.82,"s":"Other"},{"x":0.72,"y":-0.75,"s":"Other"},{"x":0.8,"y":-0.7,"s":"Other"},{"x":0.87,"y":-1.13,"s":"Other"},{"x":0.87,"y":-1.23,"s":"Other"},{"x":0.88,"y":-0.75,"s":"Other"},{"x":0.92,"y":-0.85,"s":"Other"},{"x":0.975,"y":-1.05,"s":"Other"},{"x":0.985,"y":0.95,"s":"Other"},{"x":0.98,"y":1.35,"s":"Other"},{"x":0.99,"y":1.1,"s":"Other"},{"x":0.75,"y":0.45,"s":"Other"},{"x":0.82,"y":0.1,"s":"Other"},{"x":0.9,"y":0.58,"s":"Other"},{"x":0.15,"y":1.33,"s":"Other"},{"x":0.19,"y":1.65,"s":"Other"},{"x":0.28,"y":0.95,"s":"Other"},{"x":0.6,"y":-0.45,"s":"Other"},{"x":0.68,"y":0.65,"s":"Other"},{"x":0.42,"y":1.2,"s":"Other"},{"x":0.985,"y":-1.38,"s":"Other"}
]},
"mark":{"type":"circle","size":21,"opacity":1},
"encoding":{"color":{"field":"s","type":"nominal","title":"SIRE",
"scale":{"domain":["EA","AA","EA_AA","HI_AA","HI_EA","HI_OT","Other"],"range":["#F8766D","#C49A00","#53B400","#00C094","#00B6EB","#A58AFF","#FB61D7"]},
"legend":{"orient":"none","legendX":401,"legendY":118}}}},
{"data":{"values":[{"x":0.01,"y":1.776},{"x":1.0,"y":-0.6}]},
"mark":{"type":"line","color":"#FFA500","strokeWidth":1.6},"encoding":{}},
{"data":{"values":[{"t":"r=-0.87 [CI95: -0.87 -0.86] (orange line)","x":1.024,"y":1.916},{"t":"n=6050","x":1.024,"y":1.755}]},
"mark":{"type":"text","align":"right","baseline":"middle","fontSize":10,"color":"#000000","font":"Liberation Sans"},
"encoding":{"text":{"field":"t","type":"nominal"}}}
]
}
